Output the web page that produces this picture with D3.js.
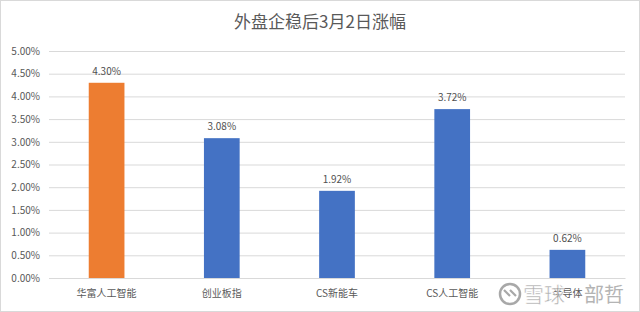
<!DOCTYPE html>
<html><head><meta charset="utf-8">
<script src="https://cdn.jsdelivr.net/npm/d3@7"></script>
<style>html,body{margin:0;padding:0;background:#fff;}svg{display:block;}</style>
</head><body>
<script>
const categories = ["华富人工智能","创业板指","CS新能车","CS人工智能","半导体"];
const values = [4.30, 3.08, 1.92, 3.72, 0.62];
const barColors = ["#ED7D31","#4472C4","#4472C4","#4472C4","#4472C4"];
const yTicks = [0,0.5,1,1.5,2,2.5,3,3.5,4,4.5,5];
const title = "外盘企稳后3月2日涨幅";

const W=640,H=312;
const svg=d3.select("body").append("svg").attr("width",W).attr("height",H);
const font="'Noto Sans CJK SC','Microsoft YaHei',sans-serif";
svg.append("rect").attr("x",0.5).attr("y",0.5).attr("width",W-1).attr("height",H-1).attr("fill","#fff").attr("stroke","#d9d9d9");

svg.append("text").attr("x",320).attr("y",28).attr("text-anchor","middle")
  .attr("font-family",font).attr("font-size",17).attr("fill","#595959").text(title);

const x=d3.scaleBand().domain(categories).range([49,625]).paddingInner(0.69).paddingOuter(0.345);
const y=d3.scaleLinear().domain([0,5]).range([278,51]);

const yAxis=d3.axisLeft(y).tickValues(yTicks).tickFormat(d=>d.toFixed(2)+"%").tickSize(-576).tickPadding(10);
const gy=svg.append("g").attr("transform","translate(49,0)").call(yAxis);
gy.select(".domain").remove();
gy.selectAll(".tick line").attr("stroke","#d9d9d9");
gy.selectAll(".tick text").attr("font-family",font).attr("font-size",10).attr("fill","#595959").attr("x",-9).attr("text-anchor","end");

svg.selectAll("rect.bar").data(values).join("rect").attr("class","bar")
  .attr("x",(d,i)=>x(categories[i])).attr("width",x.bandwidth())
  .attr("y",d=>y(d)).attr("height",d=>y(0)-y(d)).attr("fill",(d,i)=>barColors[i]);

svg.selectAll("text.val").data(values).join("text").attr("class","val")
  .attr("x",(d,i)=>x(categories[i])+x.bandwidth()/2).attr("y",d=>y(d)-8)
  .attr("text-anchor","middle").attr("font-family",font).attr("font-size",10).attr("fill","#505050")
  .text(d=>d.toFixed(2)+"%");

const xAxis=d3.axisBottom(x).tickSize(0).tickPadding(12);
const gx=svg.append("g").attr("transform","translate(0,278)").call(xAxis);
gx.select(".domain").attr("stroke","#d9d9d9");
gx.selectAll(".tick text").attr("font-family",font).attr("font-size",10).attr("fill","#595959");

// watermark (Xueqiu)
const wm=svg.append("g").attr("opacity",0.85);
wm.append("circle").attr("cx",510).attr("cy",294).attr("r",10).attr("fill","none").attr("stroke","#9a9a9a").attr("stroke-width",2.5);
wm.append("path").attr("d","M504,290 L510,296 M510,290 L516,296").attr("stroke","#9a9a9a").attr("stroke-width",2.2).attr("fill","none");
wm.append("text").attr("x",523).attr("y",302).attr("font-family",font).attr("font-size",21).attr("fill","#a0a0a0").attr("stroke","#fff").attr("stroke-width",0.5).text("雪球");
wm.append("text").attr("x",584).attr("y",302).attr("font-family",font).attr("font-size",20).attr("fill","#a8a8a8").text("部哲");
</script>
</body></html>
